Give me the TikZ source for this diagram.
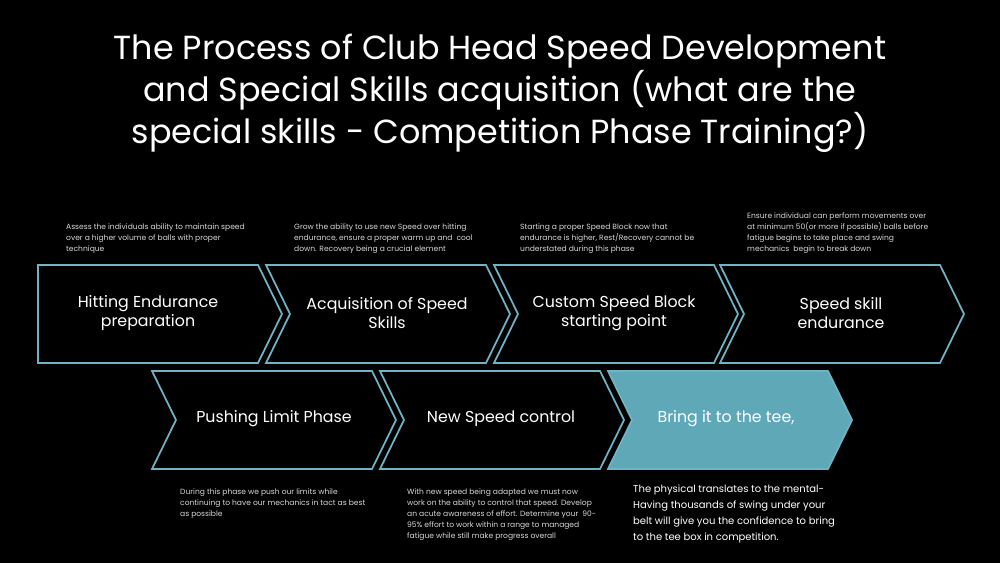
\documentclass[tikz,border=0pt]{standalone}
\usepackage{fontspec}
\setmainfont{Poppins}
\begin{document}
\begin{tikzpicture}[x=0.02cm, y=-0.02cm,
    every node/.style={text=white, align=center},
    stage/.style={draw=edge, line width=1pt},
    label/.style={font=\fontsize{9}{11}\selectfont},
    note/.style={anchor=north west, align=left, font=\fontsize{4.3}{6.2}\selectfont, text=white!85!black}]
    \definecolor{edge}{HTML}{6FB3C6}
    \definecolor{teal}{HTML}{5FA8B8}
    \fill[black] (0,0) rectangle (1000,563);
    % chevron: #1 left x, #2 top y, #3 notch (0/1), #4 fill
    \newcommand{\chev}[4]{\draw[stage, fill=#4] (#1,#2) -- ++(220,0) -- ++(24,49) -- ++(-24,49) -- ++(-220,0) -- ++(24*#3,-49) -- cycle;}
    \node[font=\fontsize{19}{24}\selectfont] (title) at (500,93) {The Process of Club Head Speed Development\\and Special Skills acquisition (what are the\\special skills - Competition Phase Training?)};
    % top row
    \chev{38}{265}{0}{black}
    \chev{266}{265}{1}{black}
    \chev{494}{265}{1}{black}
    \chev{720}{265}{1}{black}
    \node[label] (hit) at (148,313) {Hitting Endurance\\preparation};
    \node[label] (acq) at (387,313) {Acquisition of Speed\\Skills};
    \node[label] (cus) at (614,313) {Custom Speed Block\\starting point};
    \node[label] (ski) at (841,313) {Speed skill\\endurance};
    % bottom row
    \chev{152}{371}{1}{black}
    \chev{380}{371}{1}{black}
    \chev{608}{371}{1}{teal}
    \node[label] (pus) at (274,419) {Pushing Limit Phase};
    \node[label] (new) at (501,419) {New Speed control};
    \node[label] (tee) at (726,419) {Bring it to the tee,};
    % notes
    \node[note] (n1) at (60,218) {Assess the individuals ability to maintain speed\\over a higher volume of balls with proper\\technique};
    \node[note] (n2) at (288,218) {Grow the ability to use new Speed over hitting\\endurance, ensure a proper warm up and\ \ cool\\down. Recovery being a crucial element};
    \node[note] (n3) at (514,218) {Starting a proper Speed Block now that\\endurance is higher, Rest/Recovery cannot be\\understated during this phase};
    \node[note] (n4) at (741,207) {Ensure individual can perform movements over\\at minimum 50(or more if possible) balls before\\fatigue begins to take place and swing\\mechanics\ \ begin to break down};
    \node[note] (n5) at (174,483) {During this phase we push our limits while\\continuing to have our mechanics in tact as best\\as possible};
    \node[note] (n6) at (401,483) {With new speed being adapted we must now\\work on the ability to control that speed. Develop\\an acute awareness of effort. Determine your\ \ 90-\\95\% effort to work within a range to managed\\fatigue while still make progress overall};
    \node[note, font=\fontsize{5.7}{9}\selectfont, text=white] (n7) at (627,479) {The physical translates to the mental-\\Having thousands of swing under your\\belt will give you the confidence to bring\\to the tee box in competition.};
\end{tikzpicture}
\end{document}
